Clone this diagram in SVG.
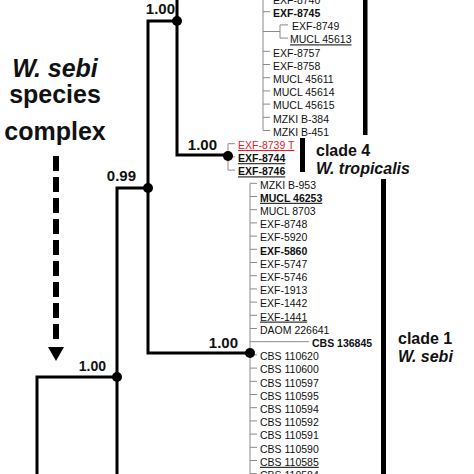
<svg xmlns="http://www.w3.org/2000/svg" width="474" height="474" viewBox="0 0 474 474">
<style>
.bg{fill:#fff}
.thick{stroke:#000;stroke-width:3;fill:none;stroke-linecap:square}
.thin{stroke:#8a8a8a;stroke-width:1;fill:none}
.dot{fill:#000}
.bar{fill:#000}
.tip{font-family:"Liberation Sans",Arial,sans-serif;font-size:10.5px;fill:#111}
.b{font-weight:bold}
.u{text-decoration:underline}
.red{fill:#e3202a}
.sup{font-family:"Liberation Sans",Arial,sans-serif;font-size:15px;font-weight:bold;fill:#111}
.clade{font-family:"Liberation Sans",Arial,sans-serif;font-size:16px;font-weight:bold;fill:#111}
.it{font-style:italic}
.big{font-family:"Liberation Sans",Arial,sans-serif;font-size:25px;font-weight:bold;fill:#111;text-anchor:middle}
</style>
<rect class="bg" width="474" height="474"/>
<g id="connectors">
  <path class="thick" d="M148 21 H177 M177 0 V155 H228 M148 21 V353 H250 M117 188 H148 M117 188 V474 M37 377 H117 M37 377 V474"/>
  <path class="thin" d="M263 0 V130.5 M263 -1.5 H270 M263 11.7 H270 M263 31.5 H280 M280 24.9 V38.1 M280 24.9 H288 M280 38.1 H288 M263 51.3 H270 M263 64.5 H270 M263 77.7 H270 M263 90.9 H270 M263 104.1 H270 M263 117.3 H270 M263 130.5 H270"/>
  <path class="thin" d="M228 143.7 V170.1 M228 143.7 H235 M228 156.9 H235 M228 170.1 H235"/>
  <path class="thin" d="M250 183.3 V474 M250 183.3 H257 M250 196.5 H257 M250 209.7 H257 M250 222.9 H257 M250 236.1 H257 M250 249.3 H257 M250 262.5 H257 M250 275.7 H257 M250 288.9 H257 M250 302.1 H257 M250 315.3 H257 M250 328.5 H257 M250 341.7 H309 M250 354.9 H257 M250 368.1 H257 M250 381.3 H257 M250 394.5 H257 M250 407.7 H257 M250 420.9 H257 M250 434.1 H257 M250 447.3 H257 M250 460.5 H257 M250 473.7 H257"/>
</g>
<g id="nodes">
  <circle class="dot" cx="177" cy="21" r="5"/>
  <circle class="dot" cx="148" cy="188" r="5"/>
  <circle class="dot" cx="228" cy="156" r="5"/>
  <circle class="dot" cx="250" cy="353" r="5"/>
  <circle class="dot" cx="117" cy="377" r="5"/>
</g>
<g id="support">
  <text class="sup" x="175" y="14" text-anchor="end">1.00</text>
  <text class="sup" x="136" y="181" text-anchor="end">0.99</text>
  <text class="sup" x="217" y="150" text-anchor="end">1.00</text>
  <text class="sup" x="238" y="348" text-anchor="end">1.00</text>
  <text class="sup" x="106" y="371" text-anchor="end" style="font-size:14px">1.00</text>
</g>
<g id="top-clade">
  <text class="tip" x="273" y="3.8">EXF-8740</text>
  <text class="tip b" x="273" y="17">EXF-8745</text>
  <text class="tip" x="292" y="30.2">EXF-8749</text>
  <text class="tip u" x="290" y="43.4">MUCL 45613</text>
  <text class="tip" x="273" y="56.6">EXF-8757</text>
  <text class="tip" x="273" y="69.8">EXF-8758</text>
  <text class="tip" x="273" y="83">MUCL 45611</text>
  <text class="tip" x="273" y="96.2">MUCL 45614</text>
  <text class="tip" x="273" y="109.4">MUCL 45615</text>
  <text class="tip" x="273" y="122.6">MZKI B-384</text>
  <text class="tip" x="273" y="135.8">MZKI B-451</text>
  <rect class="bar" x="363" y="0" width="4.5" height="135"/>
</g>
<g id="clade4">
  <text class="tip u red" x="238" y="149">EXF-8739 T</text>
  <text class="tip b u" x="238" y="162.2">EXF-8744</text>
  <text class="tip b u" x="238" y="175.4">EXF-8746</text>
  <rect class="bar" x="300" y="138" width="5" height="34"/>
  <text class="clade" x="316" y="156">clade 4</text>
  <text class="clade it" x="316" y="174">W. tropicalis</text>
</g>
<g id="clade1">
  <text class="tip" x="260" y="188.6">MZKI B-953</text>
  <text class="tip b u" x="260" y="201.8">MUCL 46253</text>
  <text class="tip" x="260" y="215">MUCL 8703</text>
  <text class="tip" x="260" y="228.2">EXF-8748</text>
  <text class="tip" x="260" y="241.4">EXF-5920</text>
  <text class="tip b" x="260" y="254.6">EXF-5860</text>
  <text class="tip" x="260" y="267.8">EXF-5747</text>
  <text class="tip" x="260" y="281">EXF-5746</text>
  <text class="tip" x="260" y="294.2">EXF-1913</text>
  <text class="tip" x="260" y="307.4">EXF-1442</text>
  <text class="tip u" x="260" y="320.6">EXF-1441</text>
  <text class="tip" x="260" y="333.8">DAOM 226641</text>
  <text class="tip b" x="312" y="347">CBS 136845</text>
  <text class="tip" x="260" y="360.2">CBS 110620</text>
  <text class="tip" x="260" y="373.4">CBS 110600</text>
  <text class="tip" x="260" y="386.6">CBS 110597</text>
  <text class="tip" x="260" y="399.8">CBS 110595</text>
  <text class="tip" x="260" y="413">CBS 110594</text>
  <text class="tip" x="260" y="426.2">CBS 110592</text>
  <text class="tip" x="260" y="439.4">CBS 110591</text>
  <text class="tip" x="260" y="452.6">CBS 110590</text>
  <text class="tip u" x="260" y="465.8">CBS 110585</text>
  <text class="tip" x="260" y="479">CBS 110584</text>
  <rect class="bar" x="381" y="179" width="5" height="295"/>
  <text class="clade" x="398" y="344">clade 1</text>
  <text class="clade it" x="398" y="362">W. sebi</text>
</g>
<g id="complex-label">
  <text class="big it" x="55" y="77">W. sebi</text>
  <text class="big" x="55" y="103">species</text>
  <text class="big" x="55" y="140">complex</text>
  <line x1="56" y1="156" x2="56" y2="339" stroke="#000" stroke-width="6" stroke-dasharray="15 6"/>
  <polygon points="48,347 64,347 56,361" fill="#000"/>
</g>
</svg>
